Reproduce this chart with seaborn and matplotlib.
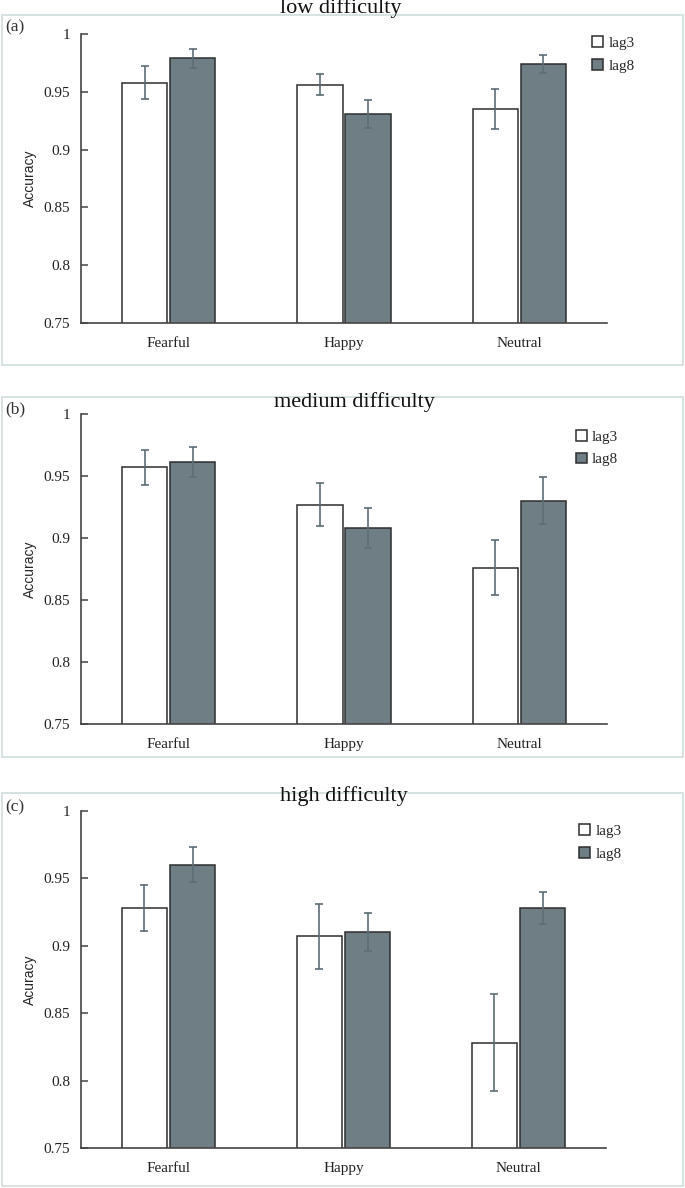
import numpy as np
import pandas as pd
import matplotlib.pyplot as plt
from matplotlib.patches import Rectangle
import seaborn as sns

# values
categories = ["Fearful", "Happy", "Neutral"]
lags = ["lag3", "lag8"]

low_lag3 = [0.958, 0.956, 0.935]
low_lag8 = [0.979, 0.931, 0.974]
low_err3 = [0.014, 0.009, 0.017]
low_err8 = [0.008, 0.012, 0.008]

med_lag3 = [0.957, 0.927, 0.876]
med_lag8 = [0.961, 0.908, 0.930]
med_err3 = [0.014, 0.017, 0.022]
med_err8 = [0.012, 0.016, 0.019]

high_lag3 = [0.928, 0.907, 0.828]
high_lag8 = [0.960, 0.910, 0.928]
high_err3 = [0.017, 0.024, 0.036]
high_err8 = [0.013, 0.014, 0.012]

yticks = [0.75, 0.8, 0.85, 0.9, 0.95, 1.0]
yticklabels = ["0.75", "0.8", "0.85", "0.9", "0.95", "1"]

sns.set_style("ticks")
plt.rcParams['font.family'] = ['Liberation Serif', 'DejaVu Serif']

W, H = 685, 1188
fig = plt.figure(figsize=(W / 100, H / 100), dpi=100)
palette = {"lag3": "white", "lag8": "#6b8088"}


def px_axes(left, right, top, bottom):
    return fig.add_axes([left / W, 1 - bottom / H, (right - left) / W, (bottom - top) / H])


def px_box(left, right, top, bottom):
    fig.patches.append(Rectangle((left / W, 1 - bottom / H), (right - left) / W, (bottom - top) / H,
                                 transform=fig.transFigure, fill=False,
                                 edgecolor='#d3dfdf', linewidth=1.3))


panels = [
    dict(vals=(low_lag3, low_lag8), errs=(low_err3, low_err8), title="low difficulty",
         tag="(a)", ylabel="Accuracy", ax=(81, 607, 34, 323), box=(2, 683, 15, 365),
         title_y=8, title_x=341, tag_y=27, leg=(0.972, 0.993)),
    dict(vals=(med_lag3, med_lag8), errs=(med_err3, med_err8), title="medium difficulty",
         tag="(b)", ylabel="Accuracy", ax=(81, 607, 414, 724), box=(2, 683, 397, 757),
         title_y=402, title_x=354, tag_y=409, leg=(0.941, 0.949)),
    dict(vals=(high_lag3, high_lag8), errs=(high_err3, high_err8), title="high difficulty",
         tag="(c)", ylabel="Acuracy", ax=(81, 606, 811, 1148), box=(2, 683, 793, 1186),
         title_y=796, title_x=344, tag_y=807, leg=(0.949, 0.961)),
]

for p in panels:
    px_box(*p["box"])
    ax = px_axes(*p["ax"])
    df = pd.DataFrame({
        "emotion": categories * 2,
        "lag": [lags[0]] * 3 + [lags[1]] * 3,
        "acc": list(p["vals"][0]) + list(p["vals"][1]),
    })
    sns.barplot(data=df, x="emotion", y="acc", hue="lag", order=categories, hue_order=lags,
                palette=palette, width=0.55, gap=0.06, errorbar=None,
                edgecolor="#2e2e2e", linewidth=1.1, ax=ax)
    for cont, vals, errs in zip(ax.containers, p["vals"], p["errs"]):
        xs = [b.get_x() + b.get_width() / 2 for b in cont]
        ax.errorbar(xs, vals, yerr=errs, fmt='none', ecolor='#5c6e75',
                    elinewidth=1.2, capsize=3, capthick=1.2, zorder=5)

    ax.set_xlim(-0.5, 2.5)
    ax.set_ylim(0.75, 1.0)
    ax.set_yticks(yticks)
    ax.set_yticklabels(yticklabels)
    ax.set_xlabel("")
    ax.set_ylabel(p["ylabel"], family=['Liberation Sans', 'DejaVu Sans'], fontsize=10)
    ax.yaxis.set_label_coords(-0.084, 0.5)
    ax.tick_params(axis='y', direction='in', length=5, width=1.1, color='#444444',
                   labelsize=11, pad=8, labelcolor='#222222')
    ax.tick_params(axis='x', length=0, labelsize=11, pad=10, labelcolor='#222222')
    for s in ["top", "right"]:
        ax.spines[s].set_visible(False)
    for s in ["left", "bottom"]:
        ax.spines[s].set_color('#444444')
        ax.spines[s].set_linewidth(1.2)
    ax.set_facecolor('none')

    sns.move_legend(ax, "upper left", bbox_to_anchor=p["leg"], title=None, frameon=False,
                    fontsize=11, borderpad=0, borderaxespad=0, handlelength=0.7,
                    handleheight=0.7, handletextpad=0.35, labelspacing=0.6)

    fig.text(p["title_x"] / W, 1 - p["title_y"] / H, p["title"], ha='center', va='center',
             fontsize=16, color='#111111')
    fig.text(5 / W, 1 - p["tag_y"] / H, p["tag"], ha='left', va='center', fontsize=12.5,
             color='#333333')

fig.savefig("out.png", dpi=100)
